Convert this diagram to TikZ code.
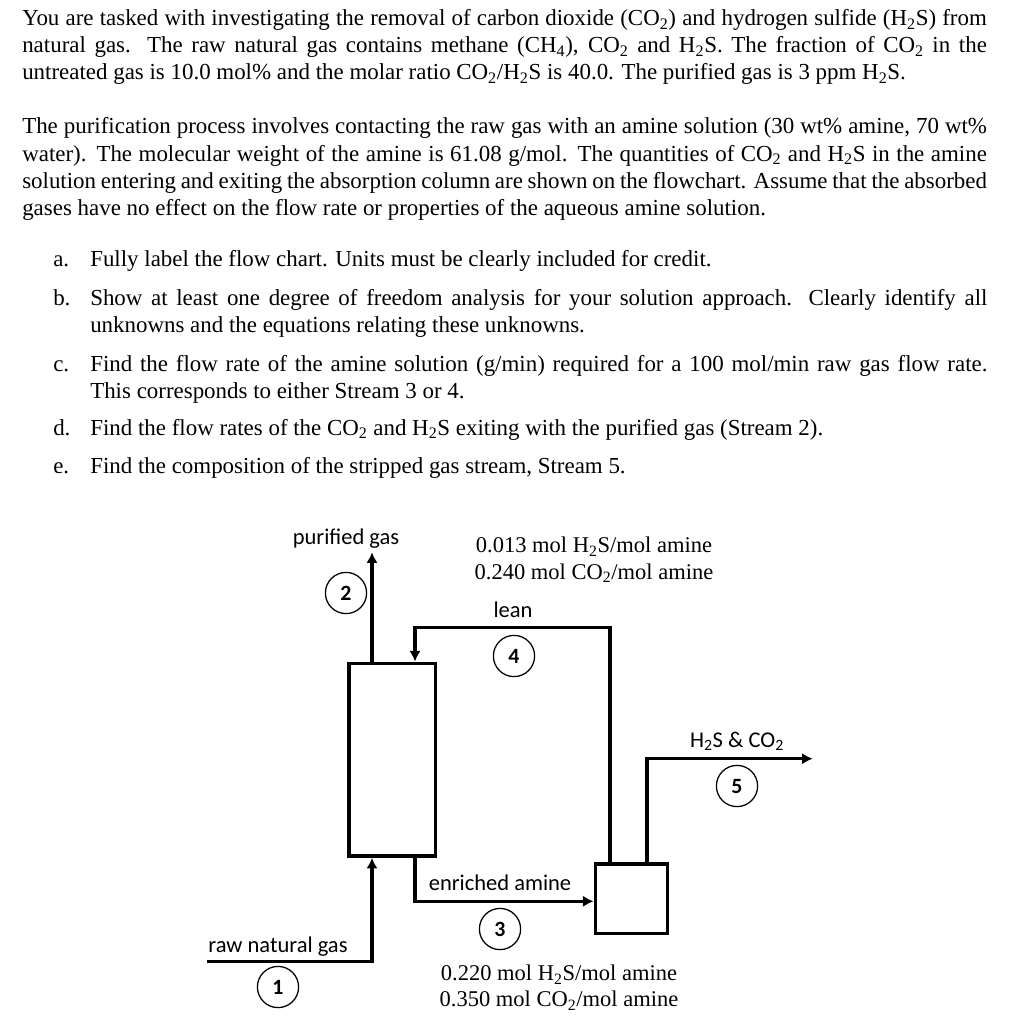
\documentclass[tikz,border=0pt]{standalone}
\usepackage{fontspec}
\setmainfont{Liberation Serif}
\newfontfamily\calibri{Carlito}
\usetikzlibrary{arrows.meta,calc}
\newcommand{\chsub}[1]{\textsubscript{#1}}
\tikzset{
  flow/.style={line width=2.5pt, -{Latex[length=7.5pt,width=8pt]}},
  unit/.style={draw, line width=2.5pt, inner sep=0pt},
  num/.style={circle, draw, line width=0.9pt, minimum size=1.03cm, inner sep=0pt,
    font=\calibri\bfseries\fontsize{15.5}{15.5}\selectfont},
  tag/.style={anchor=base, inner sep=0pt, font=\calibri\fontsize{16}{19}\selectfont},
  data/.style={align=center, inner sep=0pt, font=\fontsize{16}{18.6}\selectfont},
  para/.style={anchor=base west, inner sep=0pt, align=justify,
    font=\rmfamily\fontsize{16.3}{19.3}\selectfont},
}
\begin{document}
\begin{tikzpicture}[x=0.025cm, y=-0.025cm]
\fill[white] (0,0) rectangle (1020,1024);
\useasboundingbox (0,0) rectangle (1020,1024);
% problem statement
\node[para, text width=686pt] (intro) at (22,25.5) {You are tasked with investigating the removal of carbon dioxide (CO\chsub{2}) and hydrogen sulfide (H\chsub{2}S) from\linebreak natural gas.  The raw natural gas contains methane (CH\chsub{4}), CO\chsub{2} and H\chsub{2}S.  The fraction of CO\chsub{2} in the\linebreak untreated gas is 10.0 mol\% and the molar ratio CO\chsub{2}/H\chsub{2}S is 40.0.  The purified gas is 3 ppm H\chsub{2}S.};
\node[para, text width=686pt] (process) at (22,134) {The purification process involves contacting the raw gas with an amine solution (30 wt\% amine, 70 wt\%\linebreak water).  The molecular weight of the amine is 61.08 g/mol.  The quantities of CO\chsub{2} and H\chsub{2}S in the amine\linebreak solution entering and exiting the absorption column are shown on the flowchart.  Assume that the absorbed\linebreak gases have no effect on the flow rate or properties of the aqueous amine solution.};
% questions
\foreach \lbl/\y in {a./266, b./305, c./371, d./435, e./473}
  \node[para] at (53,\y) {\lbl};
\node[para, text width=638pt] (qa) at (90,266) {Fully label the flow chart.  Units must be clearly included for credit.};
\node[para, text width=638pt] (qb) at (90,305) {Show at least one degree of freedom analysis for your solution approach.  Clearly identify all\linebreak unknowns and the equations relating these unknowns.};
\node[para, text width=638pt] (qc) at (90,371) {Find the flow rate of the amine solution (g/min) required for a 100 mol/min raw gas flow rate.\linebreak This corresponds to either Stream 3 or 4.};
\node[para, text width=638pt] (qd) at (90,435) {Find the flow rates of the CO\chsub{2} and H\chsub{2}S exiting with the purified gas (Stream 2).};
\node[para, text width=638pt] (qe) at (90,473) {Find the composition of the stripped gas stream, Stream 5.};
% units
\node[unit, minimum width=2.17cm, minimum height=4.82cm] (col) at (392.3,759.7) {};
\node[unit, minimum width=1.805cm, minimum height=1.74cm] (flash) at (631.4,898.7) {};
% stream end points
\coordinate (p1) at (207,961.3);
\coordinate (p2) at (372,552.3);
\coordinate (p3) at (415,901.3);
\coordinate (p4) at (610,627.7);
\coordinate (q5) at (647,758.7);
\coordinate (p5) at (812.7,758.7);
% streams
\draw[flow] (p1) -| (col.south -| p2);
\draw[flow] (col.north -| p2) -- (p2);
\draw[flow] (col.south -| p3) -- (p3) -- (flash.west |- p3);
\draw[flow] (flash.north -| p4) -- (p4) -| (col.north -| p3);
\draw[flow] (flash.north -| q5) -- (q5) -- (p5);
% stream numbers
\node[num] (s1) at (278,987) {1};
\node[num] (s2) at (346,593) {2};
\node[num] (s3) at (500,929) {3};
\node[num] (s4) at (514,656) {4};
\node[num] (s5) at (737,786) {5};
% labels
\node[tag] (raw) at (278,952) {raw natural gas};
\node[tag] (pure) at (346,544) {purified gas};
\node[tag] (rich) at (500,890) {enriched amine};
\node[tag] (lean) at (513,617) {lean};
\node[tag] (acid) at (737,747) {H\chsub{2}S \& CO\chsub{2}};
\node[data] (leanload) at (594,560) {0.013 mol H\chsub{2}S/mol amine\\0.240 mol CO\chsub{2}/mol amine};
\node[data] (richload) at (559,987.5) {0.220 mol H\chsub{2}S/mol amine\\0.350 mol CO\chsub{2}/mol amine};
\end{tikzpicture}
\end{document}
